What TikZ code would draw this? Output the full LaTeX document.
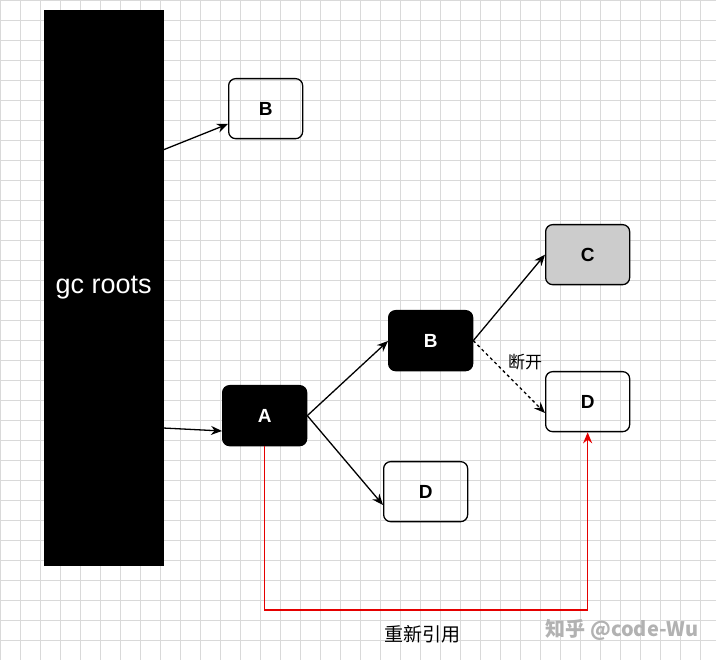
\documentclass[tikz,border=0pt]{standalone}
\usepackage{fontspec}
\setmainfont{Liberation Sans}
\newfontfamily\cjk{Noto Sans CJK SC}
\usetikzlibrary{arrows.meta}
\begin{document}
\begin{tikzpicture}[x=1pt,y=-1pt,
  box/.style={draw,rounded corners=7pt,line width=1.3pt,minimum width=84pt,minimum height=60pt,font=\bfseries\fontsize{19}{22}\selectfont,anchor=north west},
  blk/.style={box,fill=black,text=white},
  arr/.style={-{Stealth[length=11pt,width=9pt]},line width=1.3pt}]
\useasboundingbox (0,0) rectangle (716,660);
\fill[white] (0,0) rectangle (716,660);
\draw[black!15,line width=0.6pt,step=20pt] (0,0) grid (716,660);
\node[draw,fill=black,text=white,minimum width=119pt,minimum height=555pt,anchor=north west,inner sep=0,font=\fontsize{27}{32}\selectfont] (roots) at (44,10) {gc roots};
\node[box,minimum width=74pt] (btop) at (228,78) {B};
\node[box,fill=black!20] (c) at (545,224) {C};
\node[blk] (bmid) at (388,310) {B};
\node[box] (dr) at (545,371) {D};
\node[blk] (a) at (222,385) {A};
\node[box] (db) at (383,461) {D};
\coordinate (r1) at (163,150);
\coordinate (r2) at (163,428);
\draw[arr] (r1) -- (btop.west |- 0,124);
\draw[arr] (r2) -- (a.west |- 0,431);
\draw[arr] (a.east) -- (bmid.west |- 0,341);
\draw[arr] (a.east) -- (db.west |- 0,505);
\draw[arr] (bmid.east) -- (c.west);
\draw[arr,dashed] (bmid.east) -- (dr.west |- 0,413);
\node[font=\cjk\fontsize{17}{20}\selectfont] (lb) at (525,362) {断开};
\draw[-{Stealth[length=11pt,width=9pt]},red!90!black,line width=1.6pt] (a.south) -- (a.south |- 0,610) -| (dr.south);
\node[font=\cjk\fontsize{19}{22}\selectfont] (lr) at (422,634) {重新引用};
\node[font=\cjk\bfseries\fontsize{20}{24}\selectfont,text=black!30] (wm) at (622,630) {知乎 @code-Wu};
\end{tikzpicture}
\end{document}
